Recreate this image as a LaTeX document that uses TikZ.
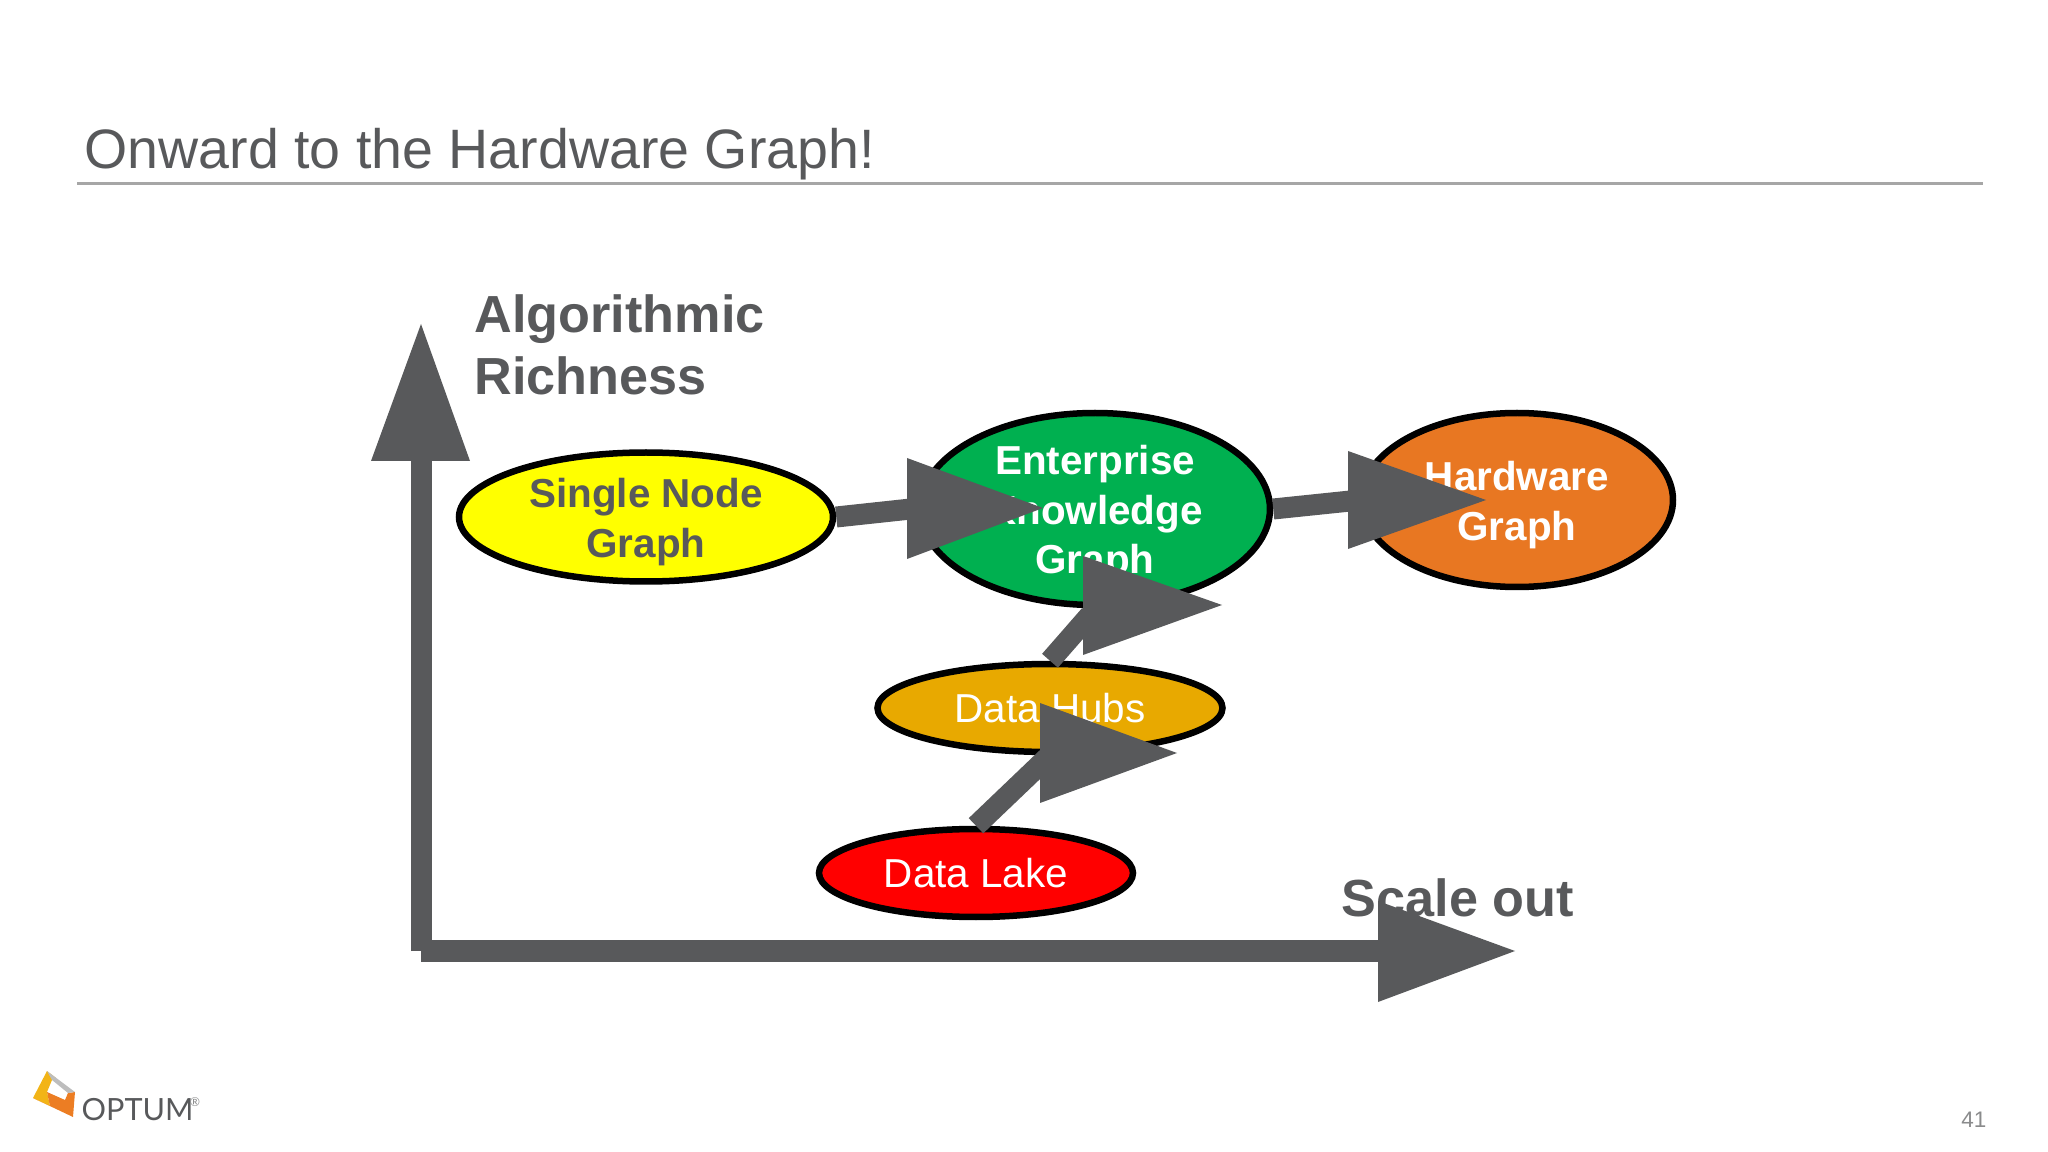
\documentclass[tikz,border=0pt]{standalone}
\usepackage{fontspec}
\setmainfont{Liberation Sans}
\newfontfamily\logofont{Lato}
\usetikzlibrary{positioning,shapes.geometric}
\definecolor{txt}{HTML}{58595B}
\definecolor{rule}{HTML}{A6A6A6}
\definecolor{lake}{HTML}{FF0000}
\definecolor{hubs}{HTML}{E8A900}
\definecolor{single}{HTML}{FFFF00}
\definecolor{ekg}{HTML}{00B050}
\definecolor{hw}{HTML}{E87722}
\definecolor{logoy}{HTML}{F2B417}
\definecolor{logoo}{HTML}{EC7D23}
\definecolor{logog}{HTML}{BDBDBD}
\newcommand{\droptext}{\rule{0pt}{0.39cm}}

\begin{document}
\begin{tikzpicture}[
  blob/.style={draw=black, ellipse, line width=0.065cm, inner sep=-0.15cm, align=center, font=\fontsize{11.5}{14.1}\selectfont},
  heavy/.style={blob, font=\fontsize{11.5}{14.1}\selectfont\bfseries},
  axislabel/.style={font=\fontsize{14.85}{17.8}\selectfont\bfseries, text=txt, align=left, inner sep=0pt},
  shaft/.style={draw=txt, line width=0.21cm},
  headtip/.style={fill=txt},
]
\useasboundingbox (0,0) rectangle (20.48,-11.52);

\node[font=\fontsize{15.8}{19}\selectfont, text=txt, anchor=west, inner sep=0pt] (title) at (0.84,-1.54) {Onward to the Hardware Graph!};
\draw[rule, line width=0.03cm] (0.77,-1.84) -- (19.83,-1.84);

\node[axislabel, anchor=west] (richness) at (4.74,-3.45) {Algorithmic\\Richness};
\node[axislabel, anchor=west] (scaleout) at (13.41,-8.98) {Scale out};

\node[heavy, fill=single, text=txt, minimum width=3.74cm, minimum height=1.29cm] (singlenode) at (6.46,-5.17) {\droptext Single Node\\Graph};
\node[heavy, fill=ekg, text=white, minimum width=3.50cm, minimum height=1.92cm] (enterprise) at (10.95,-5.09) {\droptext Enterprise\\Knowledge\\Graph};
\node[heavy, fill=hw, text=white, minimum width=3.12cm, minimum height=1.74cm] (hardware) at (15.17,-5.00) {\droptext Hardware\\Graph};
\node[blob, fill=hubs, text=white, minimum width=3.45cm, minimum height=0.88cm] (datahubs) at (10.50,-7.08) {Data Hubs};
\node[blob, fill=lake, text=white, minimum width=3.14cm, minimum height=0.88cm] (datalake) at (9.76,-8.73) {Data Lake};

\coordinate (origin) at (4.21,-9.51);
\coordinate (yend) at (4.21,-4.50);
\coordinate (xend) at (13.90,-9.51);
\coordinate (ekgin) at (9.20,-5.08);
\coordinate (hwin) at (13.60,-5.00);
\coordinate (hubsin) at (10.90,-6.15);
\coordinate (lakein) at (10.50,-7.55);

\draw[shaft] (origin) -- (yend);
\draw[shaft] (origin) -- (xend);
\draw[shaft] (singlenode.east) -- (ekgin);
\draw[shaft] (enterprise.east) -- (hwin);
\draw[shaft] (datahubs.north) -- (hubsin);
\draw[shaft] (datalake.north) -- (lakein);

\fill[headtip] (3.71,-4.61) -- (4.70,-4.61) -- (4.21,-3.24) -- cycle;
\fill[headtip] (13.78,-9.01) -- (13.78,-10.02) -- (15.15,-9.51) -- cycle;
\fill[headtip] (9.07,-4.58) -- (9.07,-5.59) -- (10.43,-5.08) -- cycle;
\fill[headtip] (13.48,-4.51) -- (13.48,-5.49) -- (14.86,-5.00) -- cycle;
\fill[headtip] (10.83,-5.56) -- (10.83,-6.55) -- (12.22,-6.05) -- cycle;
\fill[headtip] (10.40,-7.03) -- (10.40,-8.03) -- (11.77,-7.53) -- cycle;

\fill[logoy] (0.47,-10.71) -- (0.33,-10.98) -- (0.50,-11.06) -- (0.47,-10.92) -- (0.52,-10.80) -- (0.56,-10.78) -- cycle;
\fill[logoo] (0.33,-10.98) -- (0.73,-11.17) -- (0.75,-10.92) -- (0.68,-10.93) -- (0.65,-11.00) -- (0.47,-10.92) -- (0.50,-11.06) -- cycle;
\fill[logog] (0.47,-10.71) -- (0.75,-10.92) -- (0.68,-10.93) -- (0.52,-10.80) -- cycle;
\node[font=\logofont\fontsize{8.7}{11}\selectfont, text=txt, anchor=west, inner sep=0pt] (optum) at (0.81,-11.10) {OPTUM};
\node[font=\logofont\fontsize{3.5}{4}\selectfont, text=txt!70, inner sep=0pt] (regmark) at (1.95,-11.02) {®};
\node[font=\fontsize{6.4}{8}\selectfont, text=txt!70, anchor=east, inner sep=0pt] (pagenum) at (19.87,-11.20) {41};

\end{tikzpicture}
\end{document}
